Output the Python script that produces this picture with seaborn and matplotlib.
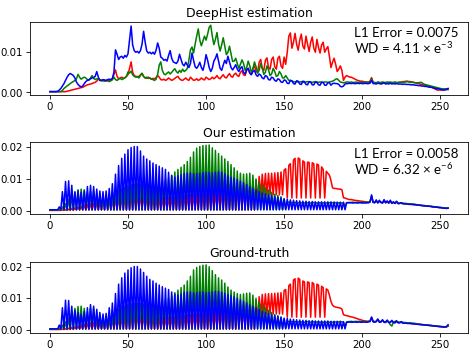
import numpy as np
import matplotlib
matplotlib.use('Agg')
import matplotlib.pyplot as plt
from matplotlib.ticker import FormatStrFormatter
import seaborn as sns

plt.rcParams['mathtext.fontset'] = 'custom'
plt.rcParams['mathtext.rm'] = 'Lato'
plt.rcParams['mathtext.it'] = 'Lato:italic'

bins = np.arange(256)

# --- histogram values, units of 1e-4 ---
# DeepHist estimation
r_dh = [2,2,2,2,2,2,2,2,2,2,2,3,4,5,6,7,
        8,9,10,11,12,13,15,17,19,20,21,22,24,25,28,34,
        32,30,29,30,28,30,30,29,32,45,56,40,34,36,38,35,
        37,40,44,60,76,50,42,40,38,40,44,47,40,36,35,38,
        36,33,35,34,37,42,38,32,31,33,30,32,36,33,30,32,
        35,38,40,34,31,30,33,36,32,30,38,34,30,31,34,30,
        32,36,33,31,38,35,32,34,38,34,37,42,36,34,40,44,
        38,36,42,47,40,38,45,48,42,40,50,54,44,42,55,60,
        48,45,60,66,52,50,75,82,60,55,80,86,62,58,82,88,
        64,58,85,90,66,60,88,70,100,140,148,110,125,147,120,105,
        130,145,115,108,140,120,102,125,138,110,100,132,112,98,118,125,
        100,108,114,90,62,75,85,70,52,58,66,55,30,38,42,40,
        38,38,36,34,32,30,29,28,28,27,26,26,26,28,37,25,
        23,24,25,24,23,25,24,23,24,25,24,23,24,25,24,24,
        25,26,27,27,28,28,27,27,26,25,24,23,22,21,20,19,
        18,17,17,15,14,12,10,8,6,6,6,6,7,9,9,9]
g_dh = [2,2,2,2,2,2,2,2,5,10,13,16,19,22,25,27,
        30,34,45,38,33,36,38,36,32,30,36,42,35,32,34,33,
        30,29,30,28,30,29,27,30,32,38,32,30,33,35,32,34,
        36,40,51,48,53,44,40,38,40,36,42,48,40,36,38,35,
        36,33,32,30,33,45,68,76,55,46,44,48,51,46,50,55,
        59,52,48,55,50,58,52,55,60,80,106,113,98,120,140,158,
        130,116,128,140,130,145,162,167,140,119,132,149,120,103,118,136,
        115,94,100,115,96,77,78,85,72,60,70,81,72,55,62,78,
        66,50,58,76,64,48,55,72,60,45,50,66,56,42,46,60,
        52,40,42,52,46,36,36,42,36,30,30,28,27,26,27,26,
        26,27,26,25,26,27,26,26,25,26,27,26,25,26,26,25,
        26,26,25,26,27,28,30,33,34,30,26,25,24,25,26,26,
        25,26,25,25,26,25,25,26,25,25,26,25,25,25,34,25,
        25,24,26,25,25,26,25,25,26,25,26,25,25,26,25,25,
        26,25,25,26,26,27,26,25,25,25,24,24,24,25,25,22,
        20,19,18,17,16,15,14,13,12,11,10,9,9,8,7,7]
b_dh = [2,2,2,2,2,3,6,10,16,22,30,38,44,47,45,42,
        36,26,20,16,14,16,22,27,30,32,34,36,37,40,52,38,
        30,30,32,31,30,32,33,32,35,50,106,95,82,88,90,85,
        92,88,96,130,165,118,104,100,102,98,104,120,152,125,103,98,
        100,96,100,95,105,123,110,88,85,80,82,78,92,104,85,76,
        74,72,78,95,82,70,66,75,68,62,72,98,80,64,60,66,
        75,62,55,70,94,80,62,52,60,78,85,96,78,60,55,68,
        80,72,90,76,62,56,62,69,58,52,60,64,50,46,56,60,
        48,44,52,55,44,40,46,43,36,34,42,40,32,31,38,36,
        30,28,34,32,26,25,31,30,23,22,30,29,22,21,29,28,
        21,20,28,27,20,19,27,26,19,19,26,25,19,18,25,25,
        18,18,24,24,18,22,23,22,22,20,15,14,16,21,22,22,
        23,22,23,22,22,23,22,23,22,22,23,22,22,23,30,22,
        22,21,23,22,21,22,24,21,22,21,23,21,22,21,22,21,
        21,21,20,21,20,20,20,19,19,19,18,18,17,17,16,16,
        15,15,14,13,13,12,11,10,9,9,8,7,6,6,8,10]

# Our estimation
r_est = [1,1,1,1,1,1,1,1,2,1,3,1,5,1,7,1,
         9,2,12,2,14,2,18,2,20,2,22,2,24,2,26,2,
         28,2,40,2,45,2,38,2,36,2,40,2,42,2,44,2,
         46,2,48,2,50,2,52,2,52,2,51,2,50,2,48,2,
         45,2,43,2,41,2,40,2,41,2,42,2,42,2,44,2,
         44,2,46,2,47,2,48,2,49,2,50,2,50,2,52,2,
         53,2,54,2,56,2,57,2,57,2,60,2,62,2,64,2,
         66,2,69,2,71,2,72,2,75,2,78,2,80,2,82,2,
         85,2,88,2,95,30,108,50,115,50,117,50,118,50,118,50,
         119,50,120,50,122,50,128,132,40,143,148,40,160,165,40,166,
         163,40,157,153,40,153,152,40,151,148,40,147,144,40,138,130,
         40,124,118,112,95,72,70,70,69,68,68,66,41,40,38,36,
         35,35,34,33,32,32,31,30,30,29,28,28,27,28,45,27,
         26,30,26,29,26,25,30,25,28,24,29,24,26,23,27,23,
         23,24,22,22,22,21,21,20,20,19,19,18,18,17,17,16,
         16,15,15,14,14,13,12,12,11,10,10,9,9,8,8,8]
g_est = [2,2,2,2,2,2,4,2,12,2,22,2,35,2,50,2,
         60,3,66,3,68,3,66,3,55,3,60,3,62,3,55,3,
         48,3,45,3,42,3,45,3,50,3,56,3,63,3,70,3,
         74,3,78,3,82,3,84,3,85,3,84,3,82,3,81,3,
         80,3,82,3,85,3,89,3,93,3,98,3,104,3,112,3,
         122,3,130,3,137,3,145,3,155,3,168,3,185,3,197,3,
         202,3,205,3,206,3,207,3,198,3,190,3,180,3,172,3,
         163,3,155,3,145,3,135,3,125,3,118,3,115,3,116,3,
         118,3,112,3,100,3,90,3,80,3,72,3,65,3,58,3,
         52,3,48,3,44,3,38,5,26,27,25,26,25,26,24,25,
         26,25,25,24,26,25,25,24,25,26,25,24,25,25,24,25,
         25,24,25,25,24,25,26,25,24,25,25,24,24,12,25,26,
         26,26,27,26,26,27,26,27,26,26,27,26,26,28,45,27,
         26,31,26,30,27,25,32,26,29,25,31,24,27,24,28,24,
         24,25,24,23,23,22,22,21,21,21,20,19,18,18,17,16,
         16,15,15,14,14,13,13,12,12,11,10,10,9,9,8,9]
b_est = [3,3,3,3,3,3,12,3,60,3,92,3,94,3,80,3,
         58,3,62,3,58,3,62,3,76,3,80,3,76,3,68,3,
         62,3,60,3,62,3,70,3,85,3,115,3,142,3,165,3,
         178,3,192,3,199,3,202,3,202,3,188,3,172,3,163,3,
         157,3,150,3,145,3,140,3,135,3,130,3,121,3,110,3,
         106,3,110,3,113,3,117,3,118,3,119,3,116,3,117,3,
         118,3,120,3,121,3,120,3,119,3,121,3,123,3,121,3,
         116,3,110,3,105,3,102,3,98,3,93,3,88,3,82,3,
         76,3,70,3,66,3,60,3,56,3,53,3,50,3,47,3,
         44,3,42,3,40,3,37,3,36,3,34,3,33,3,32,3,
         31,3,30,3,30,3,29,3,29,3,28,3,28,3,28,3,
         28,3,28,3,28,3,27,3,27,3,27,3,27,3,25,25,
         25,25,24,25,25,24,25,25,24,25,24,25,25,27,50,26,
         25,34,24,33,26,24,35,25,31,24,33,23,28,23,30,22,
         23,25,22,22,21,21,20,20,20,19,19,18,18,17,16,16,
         15,15,14,14,13,12,12,11,11,10,10,9,8,8,7,8]

# Ground-truth
r_gt = [1,1,1,1,1,1,1,1,2,1,3,1,5,1,7,1,
        9,2,12,2,15,2,18,2,20,2,22,2,23,2,25,2,
        26,2,28,2,30,2,32,2,34,2,37,2,39,2,41,2,
        42,2,45,2,48,2,50,2,50,2,49,2,47,2,45,2,
        42,2,40,2,38,2,38,2,39,2,40,2,40,2,42,2,
        42,2,44,2,45,2,46,2,48,2,48,2,50,2,50,2,
        51,2,52,2,54,2,55,2,55,2,58,2,60,2,62,2,
        64,2,67,2,69,2,70,2,72,2,75,2,77,2,79,2,
        82,2,86,2,92,30,105,50,112,50,114,50,115,50,115,50,
        116,50,117,50,118,50,125,128,40,140,145,40,158,162,40,164,
        160,40,155,152,40,152,150,40,150,146,40,145,142,40,138,134,
        40,130,126,110,90,78,74,72,71,70,69,66,48,46,45,44,
        42,41,40,38,37,35,33,32,30,29,28,27,27,28,40,27,
        26,26,33,25,25,30,25,24,29,24,24,27,24,23,26,23,
        23,24,22,22,22,21,21,20,20,19,19,18,18,17,17,16,
        16,15,15,14,14,13,12,12,11,10,10,9,9,8,9,12]
g_gt = [2,2,2,2,2,2,5,2,15,2,25,2,38,2,55,2,
        68,3,74,3,75,3,68,3,55,3,68,3,68,3,55,3,
        45,3,40,3,38,3,45,3,48,3,55,3,65,3,72,3,
        75,3,80,3,82,3,84,3,85,3,83,3,81,3,80,3,
        80,3,82,3,84,3,87,3,90,3,95,3,100,3,108,3,
        118,3,126,3,134,3,142,3,155,3,170,3,190,3,198,3,
        202,3,205,3,206,3,200,3,188,3,175,3,165,3,158,3,
        148,3,136,3,126,3,120,3,115,3,112,3,114,3,116,3,
        117,3,110,3,100,3,88,3,78,3,70,3,62,3,55,3,
        48,3,45,3,40,3,35,5,25,27,24,26,25,26,24,25,
        26,25,26,24,25,26,25,24,25,26,24,25,25,24,25,24,
        25,24,25,24,25,24,25,25,24,25,26,25,24,10,25,26,
        26,27,26,26,27,26,27,26,26,27,26,26,27,28,38,27,
        26,27,33,26,26,30,25,26,29,24,16,12,24,27,26,25,
        24,25,24,23,23,22,22,22,21,21,20,19,18,17,17,16,
        16,15,15,14,14,13,13,12,12,11,11,10,10,9,10,12]
b_gt = [3,3,3,3,3,3,15,3,70,3,94,3,93,3,75,3,
        62,3,55,3,50,3,58,3,70,3,80,3,75,3,65,3,
        55,3,50,3,52,3,70,3,85,3,115,3,145,3,165,3,
        180,3,190,3,197,3,201,3,201,3,193,3,182,3,170,3,
        160,3,155,3,148,3,142,3,137,3,132,3,128,3,120,3,
        113,3,110,3,114,3,119,3,120,3,120,3,117,3,118,3,
        120,3,120,3,118,3,119,3,120,3,122,3,122,3,119,3,
        116,3,112,3,108,3,105,3,100,3,95,3,90,3,85,3,
        79,3,74,3,70,3,64,3,58,3,55,3,52,3,48,3,
        45,3,42,3,40,3,37,3,36,3,34,3,33,3,32,3,
        31,3,30,3,30,3,29,3,29,3,28,3,28,3,28,3,
        28,3,28,3,27,3,27,3,27,3,27,3,26,3,24,24,
        25,24,24,25,24,24,25,24,24,25,24,24,25,26,40,25,
        24,26,34,24,25,32,24,23,31,23,24,30,23,22,29,22,
        22,26,21,21,21,20,20,20,19,19,18,18,17,17,16,16,
        15,15,14,14,13,13,12,12,11,11,10,10,9,9,10,16]

titles = ['DeepHist estimation', 'Our estimation', 'Ground-truth']
notes = [['L1 Error = 0.0075', r'WD = 4.11 × e$^{-3}$'],
         ['L1 Error = 0.0058', r'WD = 6.32 × e$^{-6}$'],
         None]
yticks = [[0, 0.01], [0, 0.01, 0.02], [0, 0.01, 0.02]]
xticks = [0, 50, 100, 150, 200, 250]

# original figure is a default 6.4x4.8 matplotlib figure scaled down
fig = plt.figure(figsize=(6.4, 4.74), dpi=474 / 6.4)
rects = [[0.0633, 0.7293, 0.924, 0.208],
         [0.0633, 0.3912, 0.924, 0.205],
         [0.0633, 0.0521, 0.924, 0.2023]]
series = [(r_dh, g_dh, b_dh), (r_est, g_est, b_est), (r_gt, g_gt, b_gt)]
note_y = [(0.85, 0.644), (0.83, 0.62)]

for i, rect in enumerate(rects):
    ax = fig.add_axes(rect)
    for vals, col in zip(series[i], ['r', 'g', 'b']):
        sns.lineplot(x=bins, y=np.array(vals) * 1e-4, color=col, linewidth=1.5, ax=ax)
    ax.set_xticks(xticks)
    ax.set_yticks(yticks[i])
    ax.yaxis.set_major_formatter(FormatStrFormatter('%.2f'))
    ax.set_xlabel('')
    ax.set_ylabel('')
    ax.set_title(titles[i], pad=5)
    if notes[i]:
        y1, y2 = note_y[i]
        ax.text(0.74, y1, notes[i][0], transform=ax.transAxes, ha='left', va='center',
                family='Lato', fontsize=13)
        ax.text(0.74, y2, notes[i][1], transform=ax.transAxes, ha='left', va='center',
                family='Lato', fontsize=13)

fig.savefig('out.png', dpi=474 / 6.4)
